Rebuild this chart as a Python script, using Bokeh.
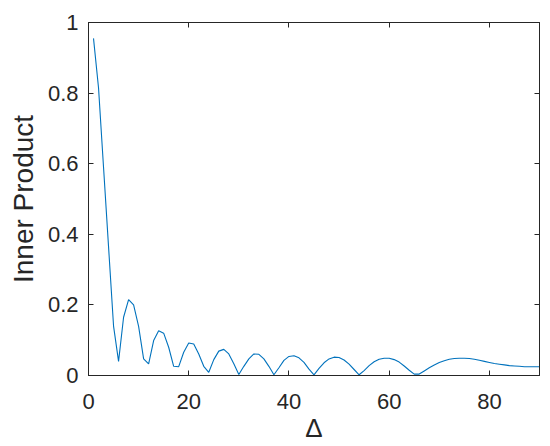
from bokeh.plotting import figure
from bokeh.models import LinearAxis, FixedTicker, Range1d
from bokeh.embed import file_html
from bokeh.resources import INLINE

delta = list(range(1, 91))
inner_product = [
    0.955, 0.815, 0.59, 0.365, 0.14, 0.04, 0.165, 0.215, 0.20, 0.139,
    0.047, 0.033, 0.099, 0.127, 0.12, 0.08, 0.026, 0.025, 0.066, 0.092,
    0.089, 0.061, 0.026, 0.009, 0.045, 0.069, 0.074, 0.061, 0.033, 0.003,
    0.026, 0.047, 0.061, 0.06, 0.047, 0.026, 0.002, 0.022, 0.043, 0.054,
    0.056, 0.050, 0.037, 0.018, 0.002, 0.02, 0.036, 0.047, 0.052, 0.051,
    0.044, 0.032, 0.017, 0.002, 0.014, 0.028, 0.039, 0.046, 0.049, 0.049,
    0.045, 0.038, 0.027, 0.015, 0.004, 0.004, 0.013, 0.022, 0.030, 0.037,
    0.042, 0.046, 0.048, 0.049, 0.049, 0.048, 0.046, 0.043, 0.040, 0.037,
    0.034, 0.032, 0.030, 0.028, 0.027, 0.026, 0.025, 0.025, 0.025, 0.025,
]
x_ticks = [0, 20, 40, 60, 80]
y_ticks = [0, 0.2, 0.4, 0.6, 0.8, 1.0]
y_tick_labels = ["0", "0.2", "0.4", "0.6", "0.8", "1"]

FONT = "Liberation Sans"
AX = "#262626"

p = figure(width=550, height=446, output_backend="svg", toolbar_location=None,
           x_range=Range1d(0, 90), y_range=Range1d(0, 1),
           min_border_left=88, min_border_right=11, min_border_top=22, min_border_bottom=71)
p.frame_width = 451
p.frame_height = 353
p.xgrid.visible = False
p.ygrid.visible = False
p.outline_line_color = AX
p.outline_line_width = 1
p.outline_line_alpha = 1

p.line(delta, inner_product, line_color="#0072BD", line_width=1.1)

def style(ax):
    ax.major_tick_in = 5
    ax.major_tick_out = 0
    ax.minor_tick_in = 0
    ax.minor_tick_out = 0
    ax.axis_line_color = AX
    ax.major_tick_line_color = AX
    ax.major_label_text_color = AX
    ax.major_label_text_font = FONT
    ax.major_label_text_font_size = "22px"
    ax.axis_label_text_font = FONT
    ax.axis_label_text_font_style = "normal"
    ax.axis_label_text_color = AX
    ax.axis_label_text_font_size = "28px"

xa = p.xaxis[0]
ya = p.yaxis[0]
style(xa)
style(ya)
xa.ticker = FixedTicker(ticks=x_ticks)
ya.ticker = FixedTicker(ticks=y_ticks)
ya.major_label_overrides = {t: l for t, l in zip(y_ticks, y_tick_labels)}
xa.axis_label = "Δ"
ya.axis_label = "Inner Product"
xa.axis_label_text_font_size = "26px"
xa.major_label_standoff = 18
ya.major_label_standoff = 10
xa.axis_label_standoff = 1
ya.axis_label_standoff = 6

top = LinearAxis(ticker=FixedTicker(ticks=x_ticks))
right = LinearAxis(ticker=FixedTicker(ticks=y_ticks))
style(top)
style(right)
top.major_label_overrides = {t: "" for t in x_ticks}
right.major_label_overrides = {t: "" for t in y_ticks}
top.major_label_standoff = 0
right.major_label_standoff = 0
p.add_layout(top, "above")
p.add_layout(right, "right")

open("out.html", "w").write(file_html(p, INLINE))
